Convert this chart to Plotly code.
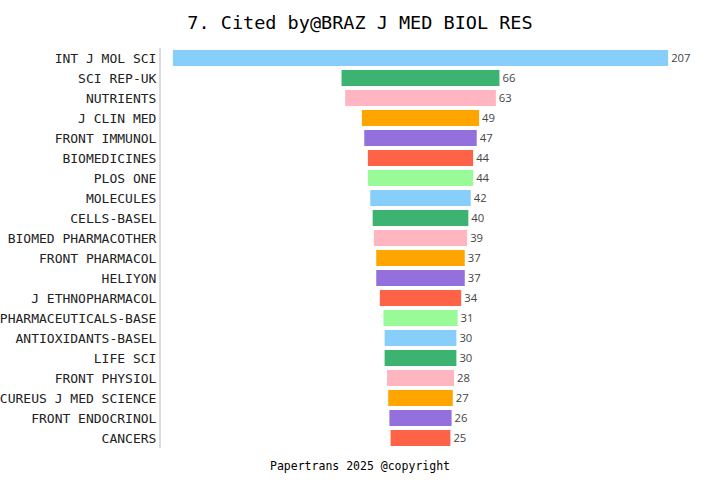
import plotly.graph_objects as go

# Journals citing BRAZ J MED BIOL RES, ordered by count
journals = [
    "INT J MOL SCI", "SCI REP-UK", "NUTRIENTS", "J CLIN MED", "FRONT IMMUNOL",
    "BIOMEDICINES", "PLOS ONE", "MOLECULES", "CELLS-BASEL", "BIOMED PHARMACOTHER",
    "FRONT PHARMACOL", "HELIYON", "J ETHNOPHARMACOL", "PHARMACEUTICALS-BASE",
    "ANTIOXIDANTS-BASEL", "LIFE SCI", "FRONT PHYSIOL", "CUREUS J MED SCIENCE",
    "FRONT ENDOCRINOL", "CANCERS",
]
counts = [207, 66, 63, 49, 47, 44, 44, 42, 40, 39, 37, 37, 34, 31, 30, 30, 28, 27, 26, 25]

palette = ["lightskyblue", "mediumseagreen", "lightpink", "orange",
           "mediumpurple", "tomato", "palegreen"]
bar_colors = [palette[i % len(palette)] for i in range(len(journals))]

MONO = "DejaVu Sans Mono"
W, H = 720, 480
L, R, T, B = 161, 40, 48, 32

fig = go.Figure(go.Funnel(
    y=journals,
    x=counts,
    marker=dict(color=bar_colors),
    textposition="outside",
    textinfo="value",
    textfont=dict(family="Open Sans", size=12, color="#444"),
    connector=dict(visible=False),
    cliponaxis=False,
))

half = max(counts) / 2 * 1.048
# footer is centred on the whole figure, not on the plot area
footer_x = (W / 2 - L) / (W - L - R)

fig.update_layout(
    width=W,
    height=H,
    title=dict(text="7. Cited by@BRAZ J MED BIOL RES", x=0.5, xanchor="center",
               y=0.954, yanchor="middle",
               font=dict(family=MONO, size=18.5, color="black")),
    margin=dict(l=L, r=R, t=T, b=B),
    plot_bgcolor="white",
    paper_bgcolor="white",
    funnelgap=0.2,
    showlegend=False,
    xaxis=dict(visible=False, range=[-half, half], automargin=False),
    yaxis=dict(showline=True, linecolor="#dcdcdc", linewidth=2, automargin=False,
               tickfont=dict(family=MONO, size=13, color="#222"),
               ticks="", showgrid=False),
    annotations=[dict(text="Papertrans 2025 @copyright", xref="paper", yref="paper",
                      x=footer_x, y=0, xanchor="center", yanchor="top", yshift=-9,
                      showarrow=False,
                      font=dict(family=MONO, size=11.5, color="black"))],
)

# drop the default page margin so the figure sits at the window corner
fig.write_html("out.html", config={"displayModeBar": False},
               post_script="document.body.style.margin='0';")
